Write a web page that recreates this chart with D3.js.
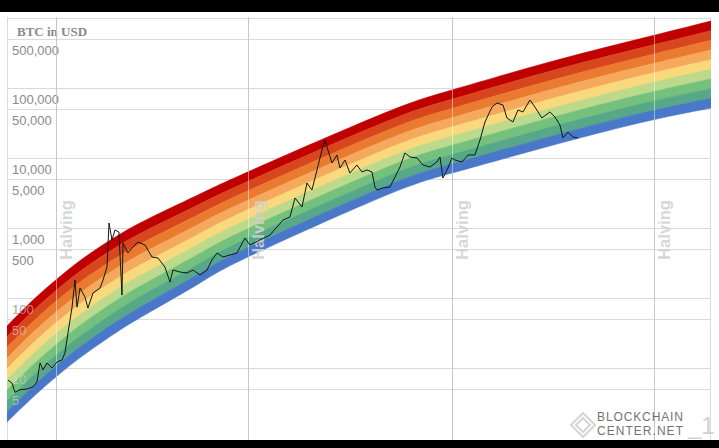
<!DOCTYPE html>
<html>
<head>
<meta charset="utf-8">
<script src="https://cdn.jsdelivr.net/npm/d3@7"></script>
<style>
  body { margin: 0; background: #000; }
  svg { display: block; }
</style>
</head>
<body>
<svg id="chart" width="719" height="448"></svg>
<script>
// rainbow edges (bottom of blue / top of dark red)
var bandDates = ["2011-12-28","2012-06-17","2012-12-06","2013-06-16","2014-01-22","2014-09-05","2015-08-15",
  "2016-07-23","2018-12-31","2020-05-11","2022-02-17","2023-11-18","2025-03-26"];
var bandLow  = [1.69, 3.73, 7.69, 15.8, 32.7, 63.1, 164, 398, 2683, 6100, 14360, 31600, 51800];
var bandHigh = [39.8, 90.6, 187, 385, 769, 1389, 3060, 6520, 41100, 93600, 227600, 501000, 906000];
var bandColors = ["#c00000","#d8461d","#ea7a2f","#f4a95d","#f9d97c","#bcd98c","#74c17e","#57a888","#4a78c8"];

var halvingDates = ["2012-11-28","2016-07-09","2020-05-11","2024-02-27"];

var gridValues = [1000000, 500000, 100000, 50000, 10000, 5000, 1000, 500, 100, 50, 10, 5];
var labelValues = [500000, 100000, 50000, 10000, 5000, 1000, 500, 100, 50, 10, 5];

var priceDates = ["2012-01-04","2012-01-31","2012-02-21","2012-03-26","2012-05-13","2012-06-24","2012-07-21","2012-08-11","2012-08-31","2012-09-28",
  "2012-11-01","2012-12-06","2013-01-09","2013-01-29","2013-02-19","2013-03-19","2013-04-08","2013-04-22","2013-05-13","2013-06-16",
  "2013-07-06","2013-08-10","2013-09-27","2013-10-18","2013-11-14","2013-11-28","2013-12-18","2014-01-08","2014-02-04","2014-02-25",
  "2014-03-04","2014-04-07","2014-05-12","2014-06-15","2014-08-02","2014-09-19","2014-10-30","2014-12-17","2015-01-21","2015-02-10",
  "2015-03-31","2015-05-18","2015-06-28","2015-08-15","2015-10-02","2015-11-05","2015-12-10","2016-01-20","2016-03-08","2016-04-25",
  "2016-06-19","2016-07-23","2016-09-30","2016-12-08","2017-01-25","2017-03-07","2017-04-24","2017-05-29","2017-07-16","2017-08-19",
  "2017-09-22","2017-10-27","2017-11-30","2017-12-21","2018-01-10","2018-02-07","2018-03-13","2018-04-03","2018-05-07","2018-06-10",
  "2018-07-28","2018-09-01","2018-10-05","2018-11-09","2018-11-29","2018-12-13","2019-01-23","2019-03-12","2019-04-16","2019-05-20",
  "2019-06-23","2019-07-28","2019-09-14","2019-10-25","2019-12-12","2020-01-29","2020-02-19","2020-03-10","2020-04-14","2020-05-11",
  "2020-06-01","2020-07-19","2020-08-29","2020-10-16","2020-11-20","2020-12-24","2021-02-10","2021-03-16","2021-04-27","2021-05-24",
  "2021-07-04","2021-08-08","2021-09-11","2021-10-29","2021-12-02","2022-01-19","2022-03-15","2022-04-19","2022-05-23","2022-06-13",
  "2022-07-17","2022-08-20","2022-09-24"];
var priceValues = [6.7, 6.1, 4.5, 4.9, 5.0, 5.4, 6.3, 11.8, 9.4, 11.8,
  10.0, 12.2, 13.0, 16.4, 31.6, 74, 181, 74, 139, 103,
  72, 118, 139, 181, 277, 1180, 674, 936, 876, 110,
  610, 440, 535, 631, 572, 385, 373, 277, 169, 251,
  235, 228, 251, 213, 251, 349, 440, 385, 411, 440,
  720, 572, 674, 794, 1033, 1301, 1436, 2683, 1995, 4394,
  3490, 6740, 13000, 18070, 13000, 8480, 11040, 7200, 9360, 6100,
  7940, 6310, 6740, 6310, 3850, 3490, 3730, 3850, 5350, 7430,
  11800, 10330, 10000, 7940, 7430, 8770, 10330, 5180, 7200, 10000,
  9360, 8770, 11040, 11040, 18070, 32700, 53500, 61000, 57100, 37300,
  32700, 48500, 45400, 67400, 53500, 37300, 45400, 38500, 29600, 19300,
  23500, 19950, 19300];

var svg = d3.select("#chart");
var width = 719, height = 448;
var parse = d3.timeParse("%Y-%m-%d");
var plotLeft = 7, plotRight = 711, plotTop = 17, plotBottom = 440;

var x = d3.scaleTime()
    .domain([parse("2011-12-28"), parse("2025-03-26")])
    .range([plotLeft, plotRight]);
var y = d3.scaleLog()
    .domain([1, 1000000])
    .range([438, 18]);

// page: black strips top and bottom, white chart area
svg.append("rect").attr("width", width).attr("height", height).attr("fill", "#000");
svg.append("rect").attr("x", 0).attr("y", 12).attr("width", width).attr("height", 428).attr("fill", "#fff");

svg.append("defs").append("clipPath").attr("id", "plot")
    .append("rect").attr("x", plotLeft).attr("y", plotTop)
    .attr("width", plotRight - plotLeft).attr("height", plotBottom - plotTop);

// horizontal grid
svg.append("g")
    .attr("transform", "translate(" + plotLeft + ",0)")
    .call(d3.axisRight(y).tickValues(gridValues).tickSize(plotRight - plotLeft).tickFormat(""))
    .call(function(g){
        g.select(".domain").remove();
        g.selectAll("line").attr("stroke", "#d9d9d9").attr("stroke-width", 1);
    });

// frame sides
svg.append("line").attr("x1", plotLeft + 0.5).attr("x2", plotLeft + 0.5).attr("y1", plotTop).attr("y2", plotBottom)
    .attr("stroke", "#dcdcdc");
svg.append("line").attr("x1", plotRight - 0.5).attr("x2", plotRight - 0.5).attr("y1", plotTop).attr("y2", plotBottom)
    .attr("stroke", "#dcdcdc");

// halving lines (under rainbow)
var halvings = halvingDates.map(parse);
svg.selectAll(".halving-line")
    .data(halvings)
    .enter().append("line")
    .attr("class", "halving-line")
    .attr("x1", function(d){ return Math.round(x(d)) + 0.5; })
    .attr("x2", function(d){ return Math.round(x(d)) + 0.5; })
    .attr("y1", plotTop).attr("y2", plotBottom)
    .attr("stroke", "#9a9a9a");

// y labels
svg.selectAll(".ylabel")
    .data(labelValues)
    .enter().append("text")
    .attr("class", "ylabel")
    .attr("x", 12)
    .attr("y", function(d){ return y(d) + 16; })
    .attr("font-family", "Liberation Sans, Arial, sans-serif")
    .attr("font-size", 13)
    .attr("fill", "#8a8a8a")
    .text(d3.format(","));

svg.append("text")
    .attr("x", 17).attr("y", 36)
    .attr("font-family", "Liberation Serif, Times New Roman, serif")
    .attr("font-weight", "bold")
    .attr("font-size", 13)
    .attr("fill", "#8a8a8a")
    .text("BTC in USD");

// rainbow bands
var bandRows = bandDates.map(function(d, i){
    return { date: parse(d), lo: Math.log10(bandLow[i]), hi: Math.log10(bandHigh[i]) };
});
var nBands = bandColors.length;

var rainbow = svg.append("g").attr("clip-path", "url(#plot)");
bandColors.forEach(function(color, i){
    var area = d3.area()
        .curve(d3.curveNatural)
        .x(function(d){ return x(d.date); })
        .y0(function(d){ return y(Math.pow(10, d.hi - (d.hi - d.lo) * (i + 1) / nBands)); })
        .y1(function(d){ return y(Math.pow(10, d.hi - (d.hi - d.lo) * i / nBands)); });
    rainbow.append("path")
        .datum(bandRows)
        .attr("d", area)
        .attr("fill", color)
        .attr("stroke", color)
        .attr("stroke-width", 0.6);
});

// light overlay of halving lines across the rainbow
svg.selectAll(".halving-over")
    .data(halvings)
    .enter().append("line")
    .attr("class", "halving-over")
    .attr("x1", function(d){ return Math.round(x(d)) + 0.5; })
    .attr("x2", function(d){ return Math.round(x(d)) + 0.5; })
    .attr("y1", plotTop).attr("y2", plotBottom)
    .attr("stroke", "#fff")
    .attr("stroke-opacity", 0.45);

// labels sitting inside the rainbow get redrawn lightly on top
svg.selectAll(".ylabel-over")
    .data(labelValues.filter(function(d){ return d <= 100; }))
    .enter().append("text")
    .attr("x", 12)
    .attr("y", function(d){ return y(d) + 16; })
    .attr("font-family", "Liberation Sans, Arial, sans-serif")
    .attr("font-size", 13)
    .attr("fill", "#d8d8d8")
    .attr("fill-opacity", 0.6)
    .text(d3.format(","));

// Halving labels
svg.selectAll(".halving-text")
    .data(halvings)
    .enter().append("text")
    .attr("class", "halving-text")
    .attr("transform", function(d){ return "translate(" + (x(d) + 16.5) + ",230) rotate(-90)"; })
    .attr("text-anchor", "middle")
    .attr("font-family", "Liberation Sans, Arial, sans-serif")
    .attr("font-weight", "bold")
    .attr("font-size", 16.5)
    .attr("fill", "#d2d2d2")
    .attr("fill-opacity", 0.9)
    .text("Halving");

// BTC price
var price = priceDates.map(function(d, i){ return { date: parse(d), value: priceValues[i] }; });
svg.append("path")
    .datum(price)
    .attr("d", d3.line()
        .x(function(d){ return x(d.date); })
        .y(function(d){ return y(d.value); }))
    .attr("fill", "none")
    .attr("stroke", "#0d1a10")
    .attr("stroke-width", 1)
    .attr("stroke-linejoin", "round");

// watermark
var mark = svg.append("g").attr("opacity", 0.75);
mark.append("path")
    .attr("d", "M583,413 L595,425 L583,437 L571,425 Z M583,418 L590,425 L583,432 L576,425 Z")
    .attr("fill", "none")
    .attr("stroke", "#c8c8c8")
    .attr("stroke-width", 2);
mark.append("text")
    .attr("x", 597).attr("y", 421)
    .attr("font-family", "Liberation Sans, Arial, sans-serif")
    .attr("font-size", 12)
    .attr("textLength", 86)
    .attr("fill", "#444")
    .text("BLOCKCHAIN");
mark.append("text")
    .attr("x", 597).attr("y", 435)
    .attr("font-family", "Liberation Sans, Arial, sans-serif")
    .attr("font-size", 12)
    .attr("textLength", 86)
    .attr("fill", "#444")
    .text("CENTER.NET");
svg.append("text")
    .attr("x", 688).attr("y", 434)
    .attr("font-family", "Liberation Sans, Arial, sans-serif")
    .attr("font-size", 24)
    .attr("fill", "#d0d0d0")
    .text("_1");
</script>
</body>
</html>
